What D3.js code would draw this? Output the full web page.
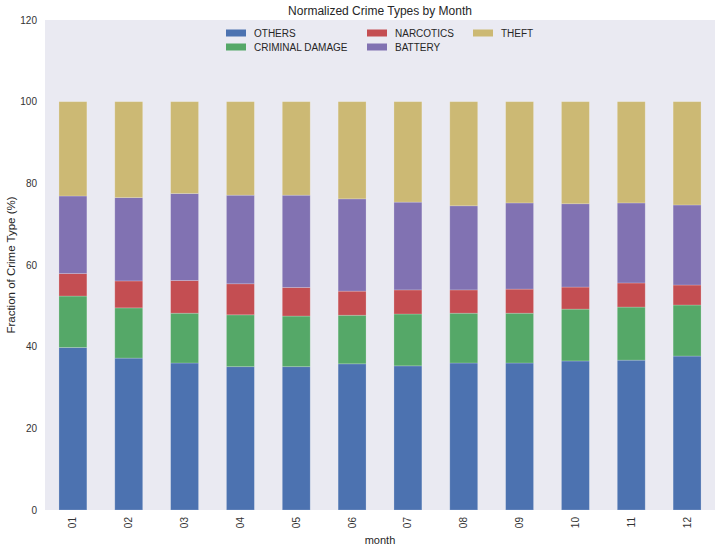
<!DOCTYPE html>
<html>
<head>
<meta charset="utf-8">
<script src="https://cdn.jsdelivr.net/npm/d3@7"></script>
<style>
body { margin: 0; background: white; }
text { font-family: "Liberation Sans", Arial, sans-serif; }
</style>
</head>
<body>
<svg></svg>
<script>
var w = 721;
var h = 549;

var months = ["01", "02", "03", "04", "05", "06", "07", "08", "09", "10", "11", "12"];
var crimeTypes = ["OTHERS", "CRIMINAL DAMAGE", "NARCOTICS", "BATTERY", "THEFT"];
var colors = ["#4C72B0", "#55A868", "#C44E52", "#8172B2", "#CCB974"];

var others = [39.8, 37.2, 36.0, 35.1, 35.1, 35.8, 35.3, 36.0, 36.0, 36.5, 36.7, 37.7];
var criminalDamage = [12.6, 12.3, 12.2, 12.7, 12.4, 11.9, 12.7, 12.2, 12.2, 12.7, 13.0, 12.5];
var narcotics = [5.5, 6.6, 8.0, 7.6, 7.0, 5.9, 5.9, 5.7, 5.9, 5.4, 5.9, 4.9];
var battery = [19.0, 20.4, 21.3, 21.7, 22.6, 22.6, 21.5, 20.6, 21.1, 20.4, 19.6, 19.6];
var theft = [23.1, 23.5, 22.5, 22.9, 22.9, 23.8, 24.6, 25.5, 24.8, 25.0, 24.8, 25.3];

var yTicks = [0, 20, 40, 60, 80, 100, 120];

var series = [others, criminalDamage, narcotics, battery, theft];

// build rows for d3.stack
var rows = months.map(function (m, i) {
	var r = { month: m };
	crimeTypes.forEach(function (c, j) { r[c] = series[j][i]; });
	return r;
});

var margin = { left: 45, right: 6, top: 20, bottom: 39 };

var canvas = d3.select("svg")
	.attr("width", w)
	.attr("height", h)
	.style("background-color", "white");

var x = d3.scaleBand()
	.domain(months)
	.range([margin.left, w - margin.right])
	.paddingInner(0.5)
	.paddingOuter(0.25);

var y = d3.scaleLinear()
	.domain([0, 120])
	.range([h - margin.bottom, margin.top]);

var color = d3.scaleOrdinal().domain(crimeTypes).range(colors);

// plot background
canvas.append("rect")
	.attr("x", margin.left)
	.attr("y", margin.top)
	.attr("width", w - margin.right - margin.left)
	.attr("height", h - margin.bottom - margin.top)
	.attr("fill", "#EAEAF2");

var stacked = d3.stack().keys(crimeTypes)(rows);

canvas.append("g")
	.selectAll("g")
	.data(stacked)
	.join("g")
	.attr("fill", function (d) { return color(d.key); })
	.selectAll("rect")
	.data(function (d) { return d; })
	.join("rect")
	.attr("x", function (d) { return x(d.data.month); })
	.attr("width", x.bandwidth())
	.attr("y", function (d) { return y(d[1]); })
	.attr("height", function (d) { return y(d[0]) - y(d[1]); })
	.attr("stroke", "white")
	.attr("stroke-opacity", 0.25)
	.attr("stroke-width", 0.8);

// y axis
var yAxis = canvas.append("g")
	.attr("transform", "translate(" + margin.left + ",0)")
	.call(d3.axisLeft(y).tickValues(yTicks).tickSize(0).tickPadding(8));
yAxis.select(".domain").remove();
yAxis.selectAll("text")
	.attr("font-size", 10)
	.attr("fill", "#333")
	.style("font-family", "'Liberation Sans', Arial, sans-serif");

// x axis
var xAxis = canvas.append("g")
	.attr("transform", "translate(0," + (h - margin.bottom) + ")")
	.call(d3.axisBottom(x).tickSize(0).tickPadding(0));
xAxis.select(".domain").remove();
xAxis.selectAll("text")
	.attr("font-size", 10)
	.attr("fill", "#333")
	.style("font-family", "'Liberation Sans', Arial, sans-serif")
	.attr("text-anchor", "end")
	.attr("dy", "0.35em")
	.attr("transform", "translate(0,7) rotate(-90)")
	.attr("x", 0)
	.attr("y", 0);

// labels
canvas.append("text")
	.attr("x", (margin.left + w - margin.right) / 2)
	.attr("y", 15)
	.attr("text-anchor", "middle")
	.attr("font-size", 12)
	.attr("fill", "#262626")
	.text("Normalized Crime Types by Month");

canvas.append("text")
	.attr("x", (margin.left + w - margin.right) / 2)
	.attr("y", 544)
	.attr("text-anchor", "middle")
	.attr("font-size", 11)
	.attr("fill", "#262626")
	.text("month");

canvas.append("text")
	.attr("transform", "translate(15," + ((margin.top + h - margin.bottom) / 2) + ") rotate(-90)")
	.attr("text-anchor", "middle")
	.attr("font-size", 11.5)
	.attr("fill", "#262626")
	.text("Fraction of Crime Type (%)");

// legend, 3 columns filled column-wise
var legendCols = [226, 367, 473];
var legend = canvas.append("g")
	.selectAll("g")
	.data(crimeTypes)
	.join("g")
	.attr("transform", function (d, i) {
		var col = Math.floor(i / 2);
		var row = i % 2;
		return "translate(" + legendCols[col] + "," + (33 + row * 14) + ")";
	});
legend.append("rect")
	.attr("x", 0)
	.attr("y", -3.5)
	.attr("width", 20)
	.attr("height", 7)
	.attr("fill", function (d) { return color(d); });
legend.append("text")
	.attr("x", 28)
	.attr("y", 0)
	.attr("dy", "0.35em")
	.attr("font-size", 10)
	.attr("fill", "#262626")
	.text(function (d) { return d; });
</script>
</body>
</html>
